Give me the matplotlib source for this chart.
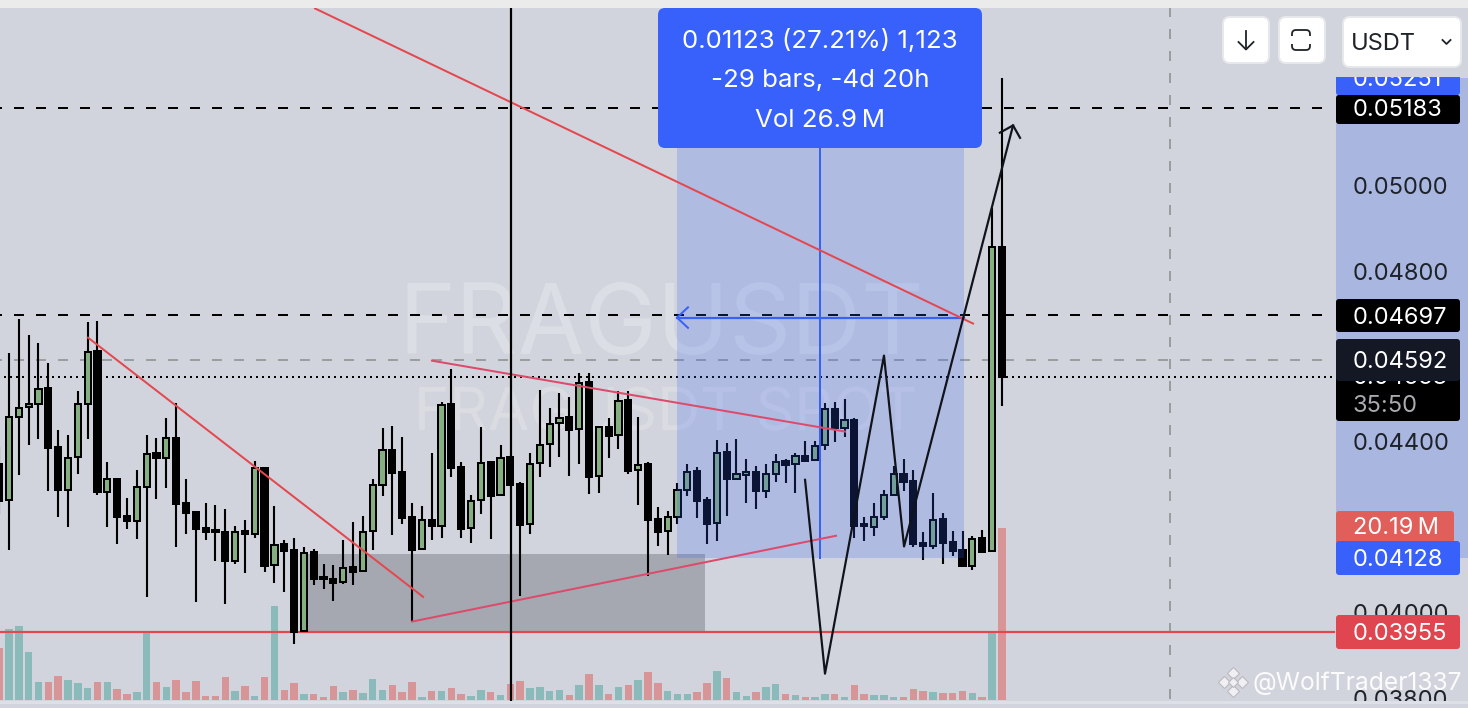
import matplotlib
matplotlib.use("Agg")
import numpy as np
import matplotlib.pyplot as plt
from matplotlib.patches import Rectangle, FancyBboxPatch

plt.rcParams['font.family'] = ['Inter', 'DejaVu Sans']

# ---------- data: prices in units of 0.00001 ----------
highs = [4388,4607,4687,4650,4631,4584,4428,4417,4519,4680,4683,4352,4314,4268,4334,4417,4409,4456,4491,4313,
         4236,4257,4252,4243,4203,4217,4355,4339,4250,4170,4175,4154,4149,4114,4111,4170,4212,4226,4313,4432,
         4437,4411,4257,4250,4374,4493,4570,4353,4275,4435,4353,4392,4364,4306,4374,4521,4479,4514,4505,4561,
         4561,4434,4456,4519,4519,4458,4353,4247,4238,4303,4348,4341,4271,4404,4397,4406,4360,4343,4348,4371,
         4360,4374,4402,4402,4491,4493,4500,4456,4224,4257,4287,4343,4360,4334,4189,4280,4233,4191,4191,4179,
         4193,4948,5253]
lows = [4232,4147,4322,4392,4406,4285,4224,4200,4325,4406,4275,4200,4161,4196,4172,4036,4266,4292,4154,4184,
        4025,4170,4121,4020,4114,4093,4175,4095,4069,4048,3926,3955,4065,4055,4027,4068,4065,4096,4147,4273,
        4182,4207,3980,4147,4170,4175,4317,4175,4163,4231,4172,4273,4299,4039,4184,4317,4341,4364,4320,4348,
        4278,4280,4362,4383,4325,4252,4086,4156,4135,4207,4273,4221,4161,4168,4226,4314,4257,4243,4268,4306,
        4303,4280,4353,4355,4381,4399,4411,4175,4168,4179,4217,4273,4285,4154,4123,4149,4114,4132,4109,4100,
        4142,4143,4484]
opens = [4348,4263,4459,4481,4489,4525,4388,4288,4364,4489,4613,4283,4314,4226,4215,4295,4374,4363,4409,4257,
         4236,4198,4193,4189,4122,4191,4185,4339,4111,4161,4147,3956,4142,4083,4079,4071,4107,4097,4191,4300,
         4381,4329,4224,4148,4217,4204,4488,4341,4198,4263,4353,4275,4364,4301,4207,4350,4394,4443,4458,4429,
         4540,4320,4435,4415,4498,4333,4348,4219,4190,4224,4288,4332,4264,4210,4376,4314,4323,4329,4286,4324,
         4355,4347,4367,4357,4392,4477,4432,4451,4207,4201,4224,4275,4325,4308,4163,4156,4219,4165,4147,4110,
         4175,4144,4857]
closes = [4262,4459,4480,4489,4524,4386,4287,4363,4489,4611,4283,4314,4224,4214,4295,4372,4362,4408,4254,4233,
          4196,4189,4189,4121,4189,4185,4338,4109,4159,4144,3955,4140,4079,4079,4069,4105,4095,4189,4300,4380,
          4328,4221,4147,4216,4203,4487,4339,4196,4262,4351,4273,4363,4299,4205,4349,4393,4442,4456,4428,4538,
          4317,4434,4413,4496,4332,4346,4217,4189,4223,4288,4330,4261,4207,4374,4313,4324,4329,4285,4324,4353,
          4346,4366,4355,4391,4476,4432,4450,4203,4203,4225,4275,4324,4306,4161,4156,4218,4163,4144,4109,4173,
          4142,4857,4552]
volumes = [6.10,8.33,8.68,5.63,2.11,2.11,2.82,2.35,1.99,1.41,2.11,2.11,1.29,0.70,0.94,7.98,2.11,1.52,2.35,0.94,
           2.23,0.47,0.47,2.70,1.06,1.64,0.47,2.70,11.03,1.17,1.99,0.70,0.70,0.35,1.64,0.94,1.17,0.82,2.46,1.17,
           1.76,0.94,2.11,0.35,1.06,1.06,1.41,0.70,0.47,1.17,0.94,0.59,1.88,2.23,1.41,1.52,1.06,1.17,0.59,1.76,
           3.05,1.76,0.70,1.52,1.76,2.35,3.28,1.99,1.06,0.70,0.70,0.94,1.99,3.40,2.58,0.94,0.47,0.94,1.52,1.88,
           0.70,0.59,0.35,0.35,0.70,0.70,0.35,1.76,0.70,0.59,0.59,0.35,0.35,1.29,1.06,0.94,0.82,0.82,1.06,0.82,
           0.35,7.82,20.19]

level_dashed = [5183, 4697]
level_grey = 4592
level_last = 4553
level_red = 3955

trend_red = ([32.13, 99.07], [5415, 4677])
trend_fall = ([9.04, 43.12], [4644, 4037])
trend_pink_top = ([44.03, 86.05], [4590, 4424])
trend_pink_low = ([42.0, 85.13], [3979, 4180])
zigzag_x = [81.98, 84.01, 90.01, 92.05, 103.14]
zigzag_p = [4311, 3857, 4602, 4155, 5141]
arrow_x = [101.8, 103.14, 103.85]
arrow_p = [5124, 5141, 5112]

zone_x = (31.01, 71.8)
zone_p = (3958, 4138)
measure_x = (68.95, 83.5, 98.15)
measure_p = (4128, 5251, 4691)
cross_x = 52.07
grid_x = 119.1

tick_prices = [5000, 4800, 4400, 4000, 3800]
tick_labels = ['0.05000', '0.04800', '0.04400', '0.04000', '0.03800']

# ---------- colours ----------
BG = '#D1D4DC'
GREEN = '#85AF80'
TEAL = '#8ABBBA'
ROSE = '#D79597'
BLUE = '#3861FB'
RED = '#E5474F'
PINK = '#DE4A6B'
GREY = '#999E9F'
W, H = 1468, 708
U = 1e-5
px = 0.72  # points per pixel at dpi 100
P_LO, P_HI = 3776.6, 5434.8
TOP_P = 5415

fig = plt.figure(figsize=(W / 100, H / 100), dpi=100, facecolor=BG)


def full_axes(z):
    a = fig.add_axes([0, 0, 1, 1], zorder=z)
    a.patch.set_alpha(0)
    for s in a.spines.values():
        s.set_visible(False)
    return a


# ---------- volume ----------
ax_vol = full_axes(0)
ax_vol.patch.set_alpha(1)
ax_vol.patch.set_facecolor(BG)
idx = np.arange(len(opens))
o = np.array(opens) * U
c = np.array(closes) * U
hi = np.array(highs) * U
lo = np.array(lows) * U
up = c >= o
ax_vol.bar(idx, volumes, width=0.76, color=[TEAL if u else ROSE for u in up], linewidth=0)
ax_vol.set_xlim(0.0844, 149.42)
ax_vol.set_ylim(-0.94, 82.16)
ax_vol.set_xticks([])
ax_vol.set_yticks([])

# ---------- price ----------
ax = full_axes(1)
ax.set_xlim(0.0844, 149.42)
ax.set_ylim(P_LO * U, P_HI * U)
ax.set_xticks([])
ax.set_yticks(np.array(tick_prices) * U)
ax.set_yticklabels(tick_labels, fontsize=17, color='#1E2329')
ax.yaxis.tick_right()
ax.tick_params(axis='y', length=0, direction='in', pad=-115 * px)

ax.text(67.4, 4665 * U, 'FRAGUSDT', fontsize=97 * px, color='white', alpha=0.24,
        ha='center', va='center', zorder=0.5)
ax.text(67.8, 4462 * U, 'FRAGUSDT SPOT', fontsize=60 * px, color='white', alpha=0.2,
        ha='center', va='center', zorder=0.5)

ax.add_patch(Rectangle((zone_x[0], zone_p[0] * U), zone_x[1] - zone_x[0], (zone_p[1] - zone_p[0]) * U,
                       color='#A5A8B0', lw=0, zorder=0.8))

LW = 2 * px
dash = (4, (5, 6))
for lv in level_dashed:
    ax.plot([0.0844, 134.6], [lv * U] * 2, color='black', lw=LW, ls=dash, zorder=1)
ax.plot([0.0844, 134.6], [level_grey * U] * 2, color=GREY, lw=LW, ls=dash, zorder=1)
ax.plot([0.5, 135.8], [level_last * U] * 2, color='black', lw=LW, ls=(0, (1, 2)), zorder=1)
ax.plot([grid_x, grid_x], [TOP_P * U, P_LO * U], color=GREY, lw=LW, ls=(0.5, (5, 6)), zorder=1)
ax.plot([0.0844, 135.8], [level_red * U] * 2, color=RED, lw=2.2 * px, zorder=1.2)

# candles
ax.vlines(idx, lo, hi, color='black', lw=2.1 * px, zorder=2)
bottoms = np.minimum(o, c)
heights = np.abs(c - o)
ax.bar(idx, heights, bottom=bottoms, width=0.63, color=[GREEN if u else 'black' for u in up],
       edgecolor='black', linewidth=2 * px, zorder=2.1)

# measure box
ax.add_patch(Rectangle((measure_x[0], measure_p[0] * U), measure_x[2] - measure_x[0],
                       (measure_p[1] - measure_p[0]) * U, color=BLUE, alpha=0.21, lw=0, zorder=3))
ax.plot([measure_x[1]] * 2, [measure_p[0] * U, measure_p[1] * U], color=BLUE, lw=2 * px, zorder=3.1)
ax.plot([measure_x[0], measure_x[2]], [measure_p[2] * U] * 2, color=BLUE, lw=2.2 * px, zorder=3.1)
ax.plot([measure_x[0] + 1.12, measure_x[0], measure_x[0] + 1.12],
        [(measure_p[2] + 24) * U, measure_p[2] * U, (measure_p[2] - 24) * U], color=BLUE, lw=2 * px, zorder=3.1)

# drawings
for (tx, tp), col in [(trend_red, RED), (trend_fall, RED), (trend_pink_top, PINK), (trend_pink_low, PINK)]:
    ax.plot(tx, np.array(tp) * U, color=col, lw=2 * px, zorder=3.5)
ax.plot(zigzag_x, np.array(zigzag_p) * U, color='#10131A', lw=2.2 * px, zorder=3.6)
ax.plot(arrow_x, np.array(arrow_p) * U, color='#10131A', lw=2.2 * px, zorder=3.6)
ax.plot([cross_x, cross_x], [P_LO * U, TOP_P * U], color='black', lw=2.2 * px, zorder=3.7)

# ---------- interface layer, in pixels ----------
ui = full_axes(2)
ui.set_xlim(0, W)
ui.set_ylim(H, 0)
ui.set_xticks([])
ui.set_yticks([])


def box(x0, y0, x1, y1, col, z=1.0, r=3, ec='none', lw=0):
    p = FancyBboxPatch((x0 + r, y0 + r), x1 - x0 - 2 * r, y1 - y0 - 2 * r,
                       boxstyle=f'round,pad={r},rounding_size={r}', fc=col, ec=ec, lw=lw, zorder=z,
                       mutation_aspect=1)
    ui.add_patch(p)
    return p


def label(x, y, txt, col='white', fs=17, z=1.5, **kw):
    return ui.text(x, y, txt, color=col, fontsize=fs, va='center_baseline', zorder=z, **kw)


# strips
ui.add_patch(Rectangle((0, 0), W, 8, color='#EBEBEB', lw=0, zorder=0.2))
ui.add_patch(Rectangle((0, 701), W, 3, color='#DDE0E6', lw=0, zorder=0.2))
ui.add_patch(Rectangle((0, 704), W, 4, color=BG, lw=0, zorder=0.2))

# price-axis band: blue measure range (below the tick labels)
ax.add_patch(Rectangle((135.98, measure_p[0] * U), 14, (measure_p[1] - measure_p[0]) * U,
                       color='#A9B6E0', lw=0, zorder=0.1))

# current price tag (under the grey tag)
box(1336, 350, 1460, 421, 'black', 1.0)
label(1353, 376, '0.04553', z=1.1)
label(1353, 404, '35:50', col='#A9ABB0', z=1.1)
box(1336, 339, 1460, 381, '#141824', 1.2)
label(1353, 360, '0.04592', z=1.3)

# clipped blue tag at the top
box(1336, 60, 1460, 95, BLUE, 1.0)
label(1353, 78, '0.05251', z=1.1)
ui.add_patch(Rectangle((1336, 40), 132, 37, color=BG, lw=0, zorder=1.15))

for (y0, y1, yc, txt, col) in [(95, 124, 107, '0.05183', 'black'), (299, 332, 315, '0.04697', 'black')]:
    box(1336, y0, 1460, y1, col, 1.4)
    label(1353, yc, txt)

box(1336, 511, 1454, 545, '#E05F5B', 1.4)
label(1353, 526, '20.19\u2009M')
box(1336, 541, 1460, 575, BLUE, 1.6)
label(1353, 558, '0.04128', z=1.7)
box(1336, 615, 1460, 649, '#E0464F', 1.6)
label(1353, 632, '0.03955', z=1.7)

# tooltip
box(658, 8, 982, 148, BLUE, 2.0, r=7)
for y, txt in [(38, '0.01123 (27.21%) 1,123'), (78, '-29 bars, -4d 20h'), (118, 'Vol 26.9\u2009M')]:
    label(820, y, txt, fs=18.6, z=2.1, ha='center')

# buttons
box(1223, 17, 1269, 63, 'white', 2.0, r=7, ec='#E6E8EC', lw=1.4)
box(1279, 17, 1325, 63, 'white', 2.0, r=7, ec='#E6E8EC', lw=1.4)
box(1343, 17, 1461, 67, 'white', 2.0, r=7, ec='#E6E8EC', lw=1.4)
ink = '#1E2329'
ui.plot([1246, 1246], [31, 49], color=ink, lw=1.3, zorder=2.1)
ui.plot([1238.5, 1246, 1253.5], [42, 49.5, 42], color=ink, lw=1.3, zorder=2.1)
ui.add_patch(FancyBboxPatch((1295, 33), 12, 14, boxstyle='round,pad=3,rounding_size=4', fc='none', ec=ink,
                            lw=1.3, zorder=2.1))
ui.add_patch(Rectangle((1290, 36), 3.5, 8, color='white', lw=0, zorder=2.15))
ui.add_patch(Rectangle((1308.5, 36), 3.5, 8, color='white', lw=0, zorder=2.15))
label(1351, 42, 'USDT', col=ink, fs=17, z=2.1)
ui.plot([1442.5, 1446.5, 1450.5], [40, 44, 40], color=ink, lw=1.3, zorder=2.1)

# source mark
for dx, dy in [(0, -9), (0, 9), (-9, 0), (9, 0)]:
    ui.plot(1233 + dx, 682 + dy, marker='D', ms=6, mfc='#F4F3F6', mec='#B9B4BC', mew=0.8, zorder=3, alpha=0.9)
ui.plot(1233, 682, marker='D', ms=5, mfc='#F4F3F6', mec='#B9B4BC', mew=0.8, zorder=3, alpha=0.9)
label(1253, 681, '@WolfTrader1337', fs=17.7, z=3, alpha=0.92)

fig.savefig('out.png', dpi=100, facecolor=BG)
